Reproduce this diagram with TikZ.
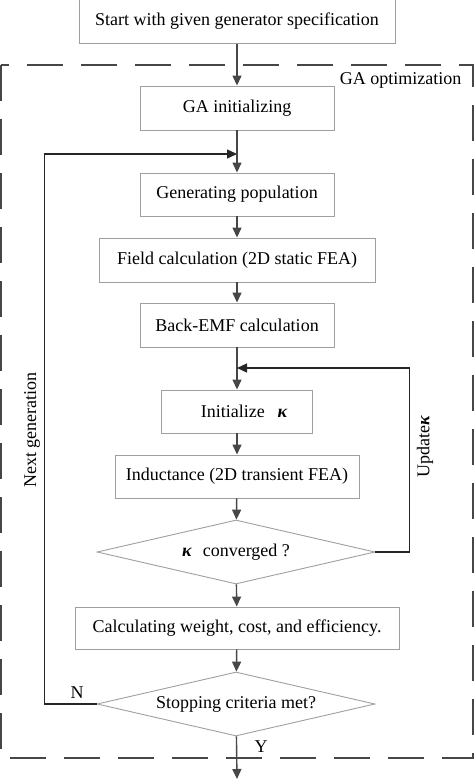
\documentclass[tikz,border=0pt]{standalone}
\usepackage{fontspec}
\setmainfont{Liberation Serif}
\usetikzlibrary{arrows.meta,positioning,shapes.geometric,calc}
\newcommand{\kap}{\textbf{\textit{κ}}}

\begin{document}
\begin{tikzpicture}[
    x=1pt,
    y=-1pt,
    box/.style={draw=gray!75, line width=0.9pt, fill=white, minimum height=44pt, inner sep=2pt, font=\fontsize{18}{21}\selectfont},
    test/.style={diamond, aspect=4.34, draw=gray!75, line width=0.9pt, fill=white, minimum width=278pt, minimum height=64pt, inner sep=0pt, font=\fontsize{18}{21}\selectfont},
    flow/.style={-{Triangle[width=9pt,length=10pt]}, draw=black!72, line width=1.4pt},
    back/.style={flow, draw=black!85},
    frame/.style={black!72, line width=2.4pt, dash pattern=on 36pt off 18pt},
    lab/.style={font=\fontsize{18}{21}\selectfont}
  ]
    \useasboundingbox (0,0) rectangle (474,780);
    \draw[frame] (1,65) rectangle (473,758);
    \node[box, minimum width=316pt, minimum height=45pt] (start) at (237,21) {Start with given generator specification};
    \node[box, minimum width=194pt] (gainit) at (237,108) {GA initializing};
    \node[box, minimum width=194pt, minimum height=43pt] (genpop) at (237,194.5) {Generating population};
    \node[box, minimum width=276pt] (field) at (237,260) {Field calculation (2D static FEA)};
    \node[box, minimum width=194pt] (backemf) at (237,325) {Back-EMF calculation};
    \node[box, minimum width=151pt, minimum height=43pt] (initk) at (237,411.5) {\hspace{0.8em}Initialize\hspace{0.7em}\kap};
    \node[box, minimum width=244pt, minimum height=43pt] (induct) at (237,476.5) {Inductance (2D transient FEA)};
    \node[test] (conv) at (236,552) {\kap\hspace{0.6em}converged ?};
    \node[box, minimum width=324pt, minimum height=42pt] (calc) at (237,628) {Calculating weight, cost, and efficiency.};
    \node[test] (stop) at (236,704) {Stopping criteria met?};
    \coordinate (join1) at (237,154);
    \coordinate (join2) at (237,368);
    \coordinate (exit) at (237,779);
    \draw[flow] (start) -- (gainit);
    \draw[flow] (gainit) -- (genpop);
    \draw[flow] (genpop) -- (field);
    \draw[flow] (field) -- (backemf);
    \draw[flow] (backemf) -- (initk);
    \draw[flow] (initk) -- (induct);
    \draw[flow] (induct) -- (conv);
    \draw[flow] (conv) -- (calc);
    \draw[flow] (calc) -- (stop);
    \draw[flow] (stop) -- (exit);
    \draw[back] (stop.west) -- ++(-52,0) |- (join1);
    \draw[back] (conv.east) -- ++(34,0) |- (join2);
    \node[lab] (nlab) at (77,693) {N};
    \node[lab] (ylab) at (261,747) {Y};
    \node[lab, rotate=90] (nextgen) at (32,430) {Next generation};
    \node[lab, rotate=90] (updk) at (425,447) {Update\kap};
    \node[lab, anchor=east] (gaopt) at (465,80) {GA optimization};
  \end{tikzpicture}
\end{document}
